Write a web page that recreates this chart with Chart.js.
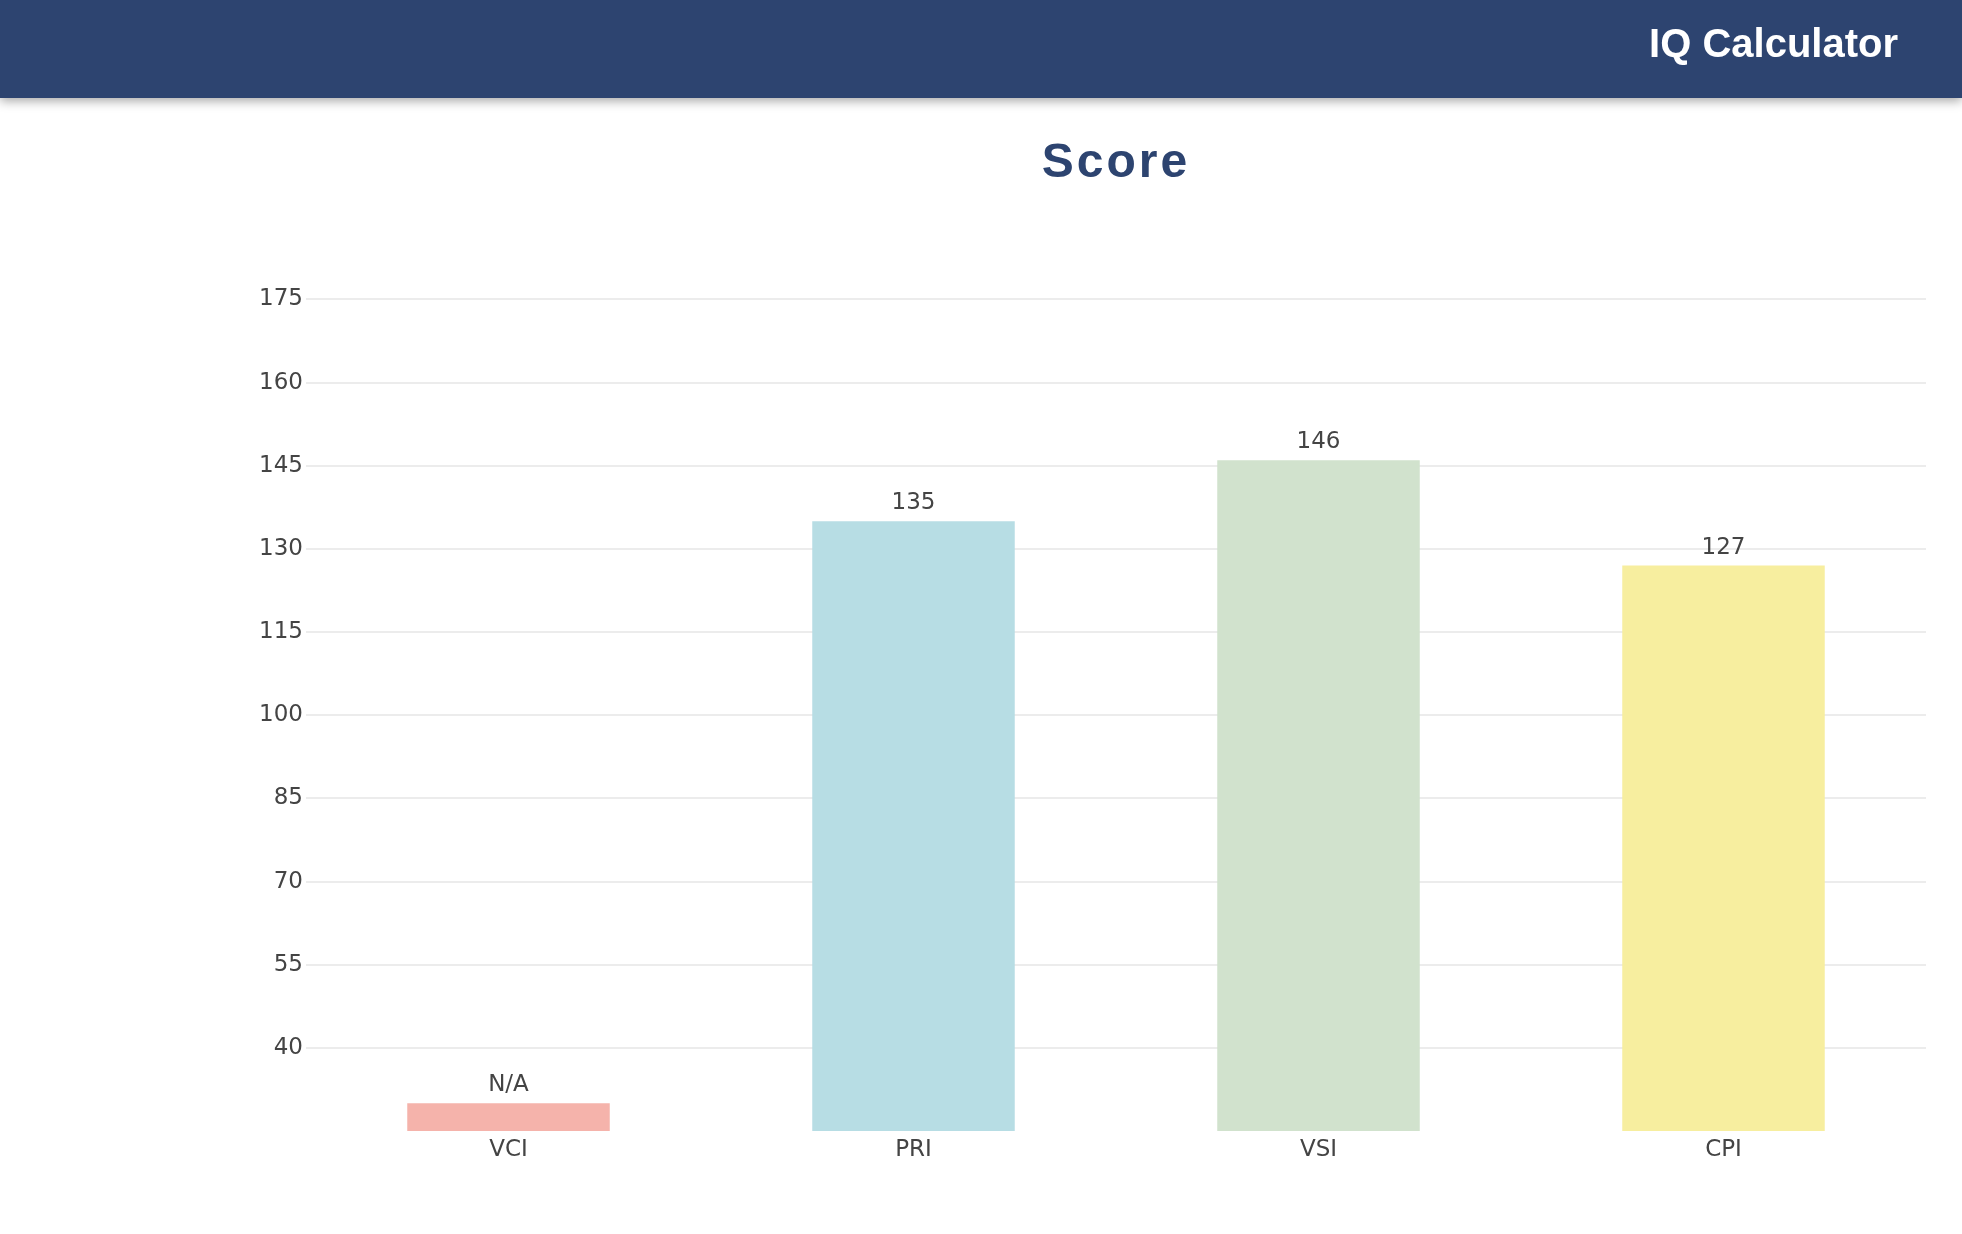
<!DOCTYPE html>
<html>
<head>
<meta charset="utf-8">
<script src="https://cdn.jsdelivr.net/npm/chart.js@4"></script>
<style>
  html, body { margin: 0; padding: 0; background: #ffffff; }
  body { width: 1962px; height: 1234px; position: relative; overflow: hidden; }
  #header {
    position: absolute; left: 0; top: 0; width: 1962px; height: 98px;
    background: #2d4470; box-shadow: 0 3px 10px rgba(0,0,0,0.35); z-index: 2;
  }
  #header span {
    position: absolute; right: 64px; top: 21px;
    font: bold 40px "Liberation Sans", Arial, sans-serif; color: #ffffff;
  }
  #title {
    position: absolute; left: 1116px; top: 160px; transform: translate(-50%, -50%);
    font: bold 48px "Liberation Sans", Arial, sans-serif; letter-spacing: 3px;
    color: #2d4470; white-space: nowrap; z-index: 1;
  }
  #wrap { position: absolute; left: 0; top: 0; width: 1962px; height: 1234px; }
</style>
</head>
<body>
<div id="header"><span>IQ Calculator</span></div>
<div id="title">Score</div>
<div id="wrap"><canvas id="c" width="1962" height="1234"></canvas></div>
<script>
const categories = ["VCI", "PRI", "VSI", "CPI"];
const scores = [30, 135, 146, 127];
const barLabels = ["N/A", "135", "146", "127"];
const barColors = ["#f5b3ab", "#b7dde4", "#d1e2cd", "#f7ee9f"];
const yTicks = [40, 55, 70, 85, 100, 115, 130, 145, 160, 175];
const yMin = 25;
const yMax = 185;

const valueLabelPlugin = {
  id: "valueLabels",
  afterDatasetsDraw(chart) {
    const ctx = chart.ctx;
    const meta = chart.getDatasetMeta(0);
    ctx.save();
    ctx.font = '23px "DejaVu Sans", Verdana, sans-serif';
    ctx.fillStyle = "#444444";
    ctx.textAlign = "center";
    ctx.textBaseline = "alphabetic";
    meta.data.forEach((bar, i) => {
      ctx.fillText(barLabels[i], bar.x, bar.y - 12);
    });
    ctx.restore();
  }
};

new Chart(document.getElementById("c"), {
  type: "bar",
  data: {
    labels: categories,
    datasets: [{
      data: scores,
      backgroundColor: barColors,
      borderWidth: 0,
      barPercentage: 0.5,
      categoryPercentage: 1.0
    }]
  },
  options: {
    responsive: false,
    animation: false,
    layout: { padding: { left: 0, right: 36, top: 244, bottom: 43 } },
    plugins: { legend: { display: false }, tooltip: { enabled: false }, title: { display: false } },
    scales: {
      x: {
        grid: { display: false, drawTicks: false },
        border: { display: false },
        ticks: { color: "#444444", padding: 5, font: { family: '"DejaVu Sans", Verdana, sans-serif', size: 23 } },
        afterFit(s) { s.height = 60; }
      },
      y: {
        min: yMin,
        max: yMax,
        grid: { color: "#ececec", lineWidth: 2, drawTicks: false },
        border: { display: false },
        ticks: { color: "#444444", padding: 3, font: { family: '"DejaVu Sans", Verdana, sans-serif', size: 23 } },
        afterBuildTicks(s) { s.ticks = yTicks.map(v => ({ value: v })); },
        afterFit(s) { s.width = 306; }
      }
    }
  },
  plugins: [valueLabelPlugin]
});
</script>
</body>
</html>
